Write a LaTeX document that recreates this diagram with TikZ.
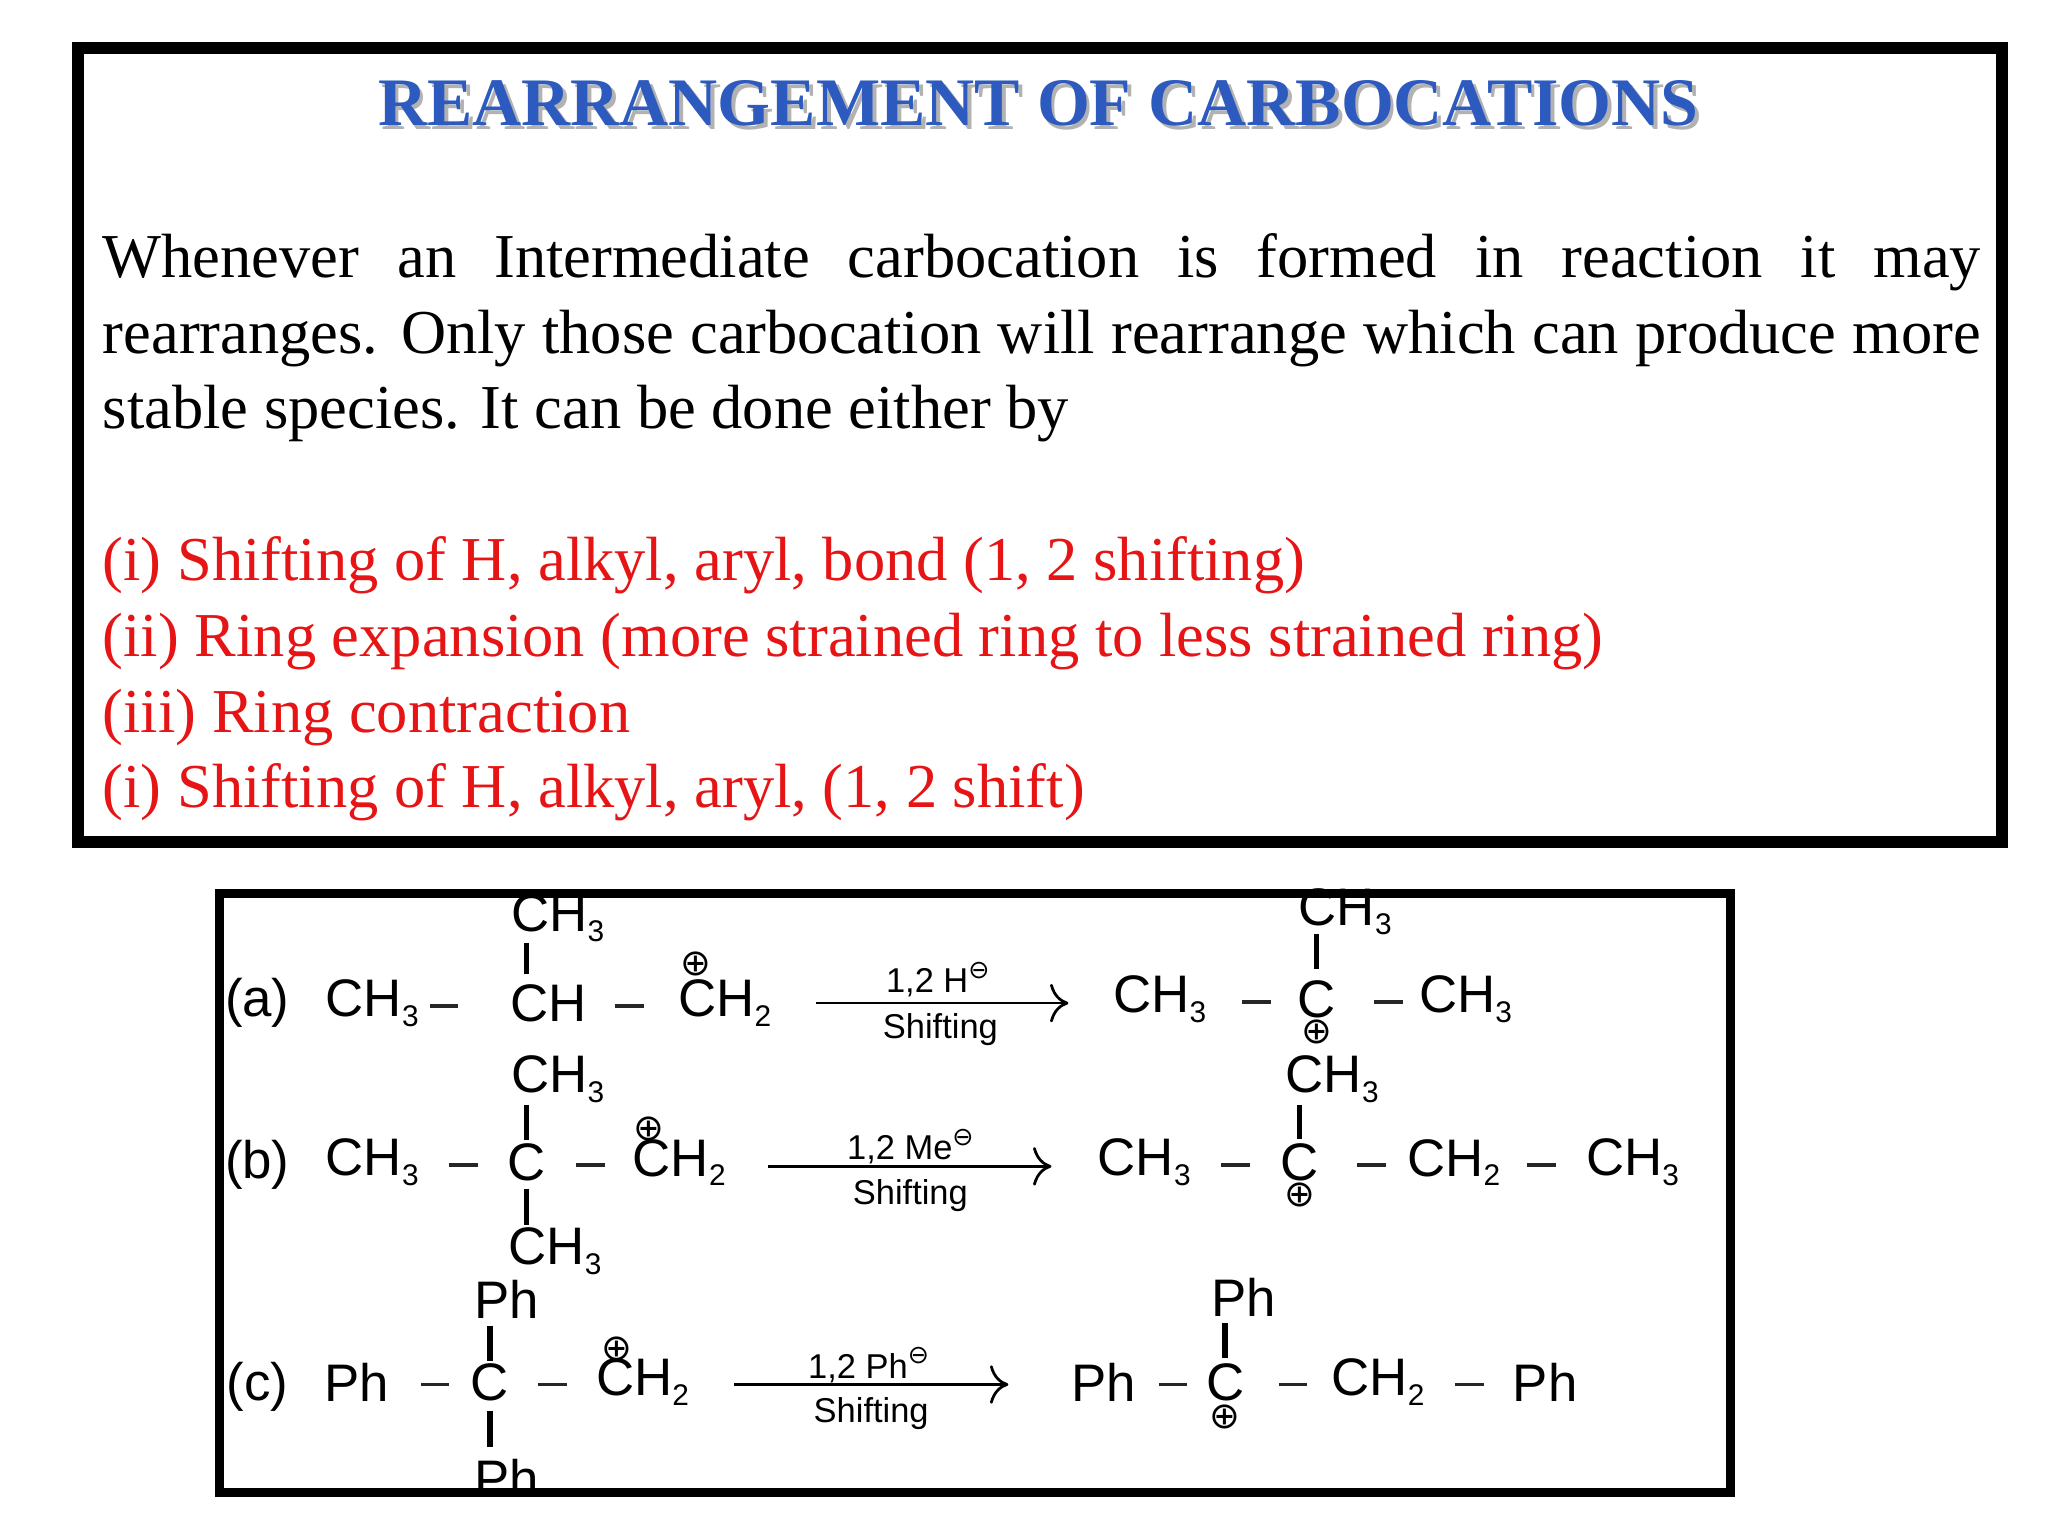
\documentclass[tikz,border=0pt]{standalone}
\usepackage{fontspec}
\usetikzlibrary{arrows.meta}
\setmainfont{Liberation Serif}
\newfontfamily\chemfont{Liberation Sans}
\newfontfamily\symfont{DejaVu Sans}
\newcommand{\sbs}[1]{\raisebox{-0.35ex}{\fontsize{6.5pt}{7pt}\selectfont #1}}
\newcommand{\negch}{{\fontsize{5.5pt}{6pt}\symfont ⊖}}
\begin{document}
\begin{tikzpicture}[x=0.01cm,y=-0.01cm,
  ch/.style={font=\chemfont\fontsize{11.5pt}{13pt}\selectfont,inner sep=0pt},
  dsh/.style={inner sep=0pt,fill=black!85,minimum width=0.22cm,minimum height=0.8pt},
  pl/.style={font=\symfont\fontsize{8pt}{9pt}\selectfont,inner sep=0pt},
  lbl/.style={font=\chemfont\fontsize{7.5pt}{9pt}\selectfont,inner sep=0pt},
  bnd/.style={line width=1.2pt},
  arr/.style={line width=0.6pt,-{To[length=4pt]}}]
\useasboundingbox (0,0) rectangle (1568,1176);
\draw[line width=2.6pt] (60,37) rectangle (1533,645);
\node (t0) at (798,82) {\fontsize{14.8pt}{16pt}\selectfont\bfseries\color{gray!60}REARRANGEMENT OF CARBOCATIONS};
\node (t) at (795,79) {\fontsize{14.8pt}{16pt}\selectfont\bfseries\color[RGB]{45,90,190}REARRANGEMENT OF CARBOCATIONS};
\node[anchor=north west,inner sep=0pt,text width=14.37cm,align=justify,font=\fontsize{13.6pt}{16.5pt}\selectfont] (p) at (78,178)
 {\hyphenpenalty=10000 Whenever an Intermediate carbocation is formed in reaction it may\linebreak rearranges. Only those carbocation will rearrange which can produce more\linebreak stable species. It can be done either by\par\vspace{16.5pt}
 \raggedright\color[RGB]{230,20,20}(i) Shifting of H, alkyl, aryl, bond (1, 2 shifting)\\
 (ii) Ring expansion (more strained ring to less strained ring)\\
 (iii) Ring contraction\\
 (i) Shifting of H, alkyl, aryl, (1, 2 shift)\par};
\draw[line width=2pt] (168,684) rectangle (1325,1143);
% (a)
\node[ch] (a0) at (197,768) {(a)};
\node[ch] (a1) at (285,768) {CH\sbs{3}}; \node[dsh] (a2) at (340,770) {};
\node[ch] (a3) at (420,768) {CH}; \node[dsh] (a4) at (482,770) {};
\node[ch] (a5) at (555,768) {CH\sbs{2}}; \node[pl] (a6) at (533,738) {⊕};
\node[ch] (a7) at (427,703) {CH\sbs{3}}; \draw[bnd] (403,722) -- (403,746);
\coordinate (aa) at (625,768); \coordinate (ab) at (818,768); \draw[arr] (aa) -- (ab);
\node[lbl] (al1) at (718,750) {1,2 H\raisebox{0.8ex}{\negch}}; \node[lbl] (al2) at (720,788) {Shifting};
\node[ch] (ap1) at (888,765) {CH\sbs{3}}; \node[dsh] (ap2) at (962,767) {};
\node[ch] (ap3) at (1008,765) {C}; \node[dsh] (ap4) at (1063,767) {};
\node[ch] (ap5) at (1122,765) {CH\sbs{3}}; \node[ch] (ap6) at (1030,698) {CH\sbs{3}};
\draw[bnd] (1008,715) -- (1008,742); \node[pl] (ap7) at (1008,790) {⊕};
% (b)
\node[ch] (b0) at (197,892) {(b)};
\node[ch] (b1) at (285,890) {CH\sbs{3}}; \node[dsh] (b2) at (355,892) {};
\node[ch] (b3) at (403,890) {C}; \node[dsh] (b4) at (452,892) {};
\node[ch] (b5) at (520,890) {CH\sbs{2}}; \node[pl] (b6) at (497,864) {⊕};
\node[ch] (b7) at (427,826) {CH\sbs{3}}; \draw[bnd] (403,846) -- (403,873);
\draw[bnd] (403,910) -- (403,938); \node[ch] (b8) at (425,958) {CH\sbs{3}};
\coordinate (ba) at (588,893); \coordinate (bb) at (805,893); \draw[arr] (ba) -- (bb);
\node[lbl] (bl1) at (697,878) {1,2 Me\raisebox{0.8ex}{\negch}}; \node[lbl] (bl2) at (697,915) {Shifting};
\node[ch] (bp1) at (876,890) {CH\sbs{3}}; \node[dsh] (bp2) at (946,892) {};
\node[ch] (bp3) at (995,890) {C}; \node[dsh] (bp4) at (1050,892) {};
\node[ch] (bp5) at (1113,890) {CH\sbs{2}}; \node[dsh] (bp6) at (1180,892) {};
\node[ch] (bp7) at (1250,890) {CH\sbs{3}}; \node[ch] (bp8) at (1020,826) {CH\sbs{3}};
\draw[bnd] (995,846) -- (995,872); \node[pl] (bp9) at (995,915) {⊕};
% (c)
\node[ch] (c0) at (197,1062) {(c)};
\node[ch] (c1) at (273,1058) {Ph}; \node[dsh] (c2) at (333,1060) {};
\node[ch] (c3) at (375,1058) {C}; \node[dsh] (c4) at (423,1060) {};
\node[ch] (c5) at (492,1058) {CH\sbs{2}}; \node[pl] (c6) at (472,1033) {⊕};
\node[ch] (c7) at (388,995) {Ph}; \draw[bnd] (375,1015) -- (375,1042);
\draw[bnd] (375,1080) -- (375,1108);
\begin{scope}\clip (168,1100) rectangle (1325,1142);
\node[ch] (c8) at (388,1132) {Ph};\end{scope}
\coordinate (ca) at (562,1060); \coordinate (cb) at (772,1060); \draw[arr] (ca) -- (cb);
\node[lbl] (cl1) at (665,1045) {1,2 Ph\raisebox{0.8ex}{\negch}}; \node[lbl] (cl2) at (667,1082) {Shifting};
\node[ch] (cp1) at (845,1058) {Ph}; \node[dsh] (cp2) at (898,1060) {};
\node[ch] (cp3) at (938,1058) {C}; \node[dsh] (cp4) at (990,1060) {};
\node[ch] (cp5) at (1055,1058) {CH\sbs{2}}; \node[dsh] (cp6) at (1125,1060) {};
\node[ch] (cp7) at (1183,1058) {Ph}; \node[ch] (cp8) at (952,993) {Ph};
\draw[bnd] (938,1013) -- (938,1040); \node[pl] (cp9) at (938,1085) {⊕};
\end{tikzpicture}
\end{document}
